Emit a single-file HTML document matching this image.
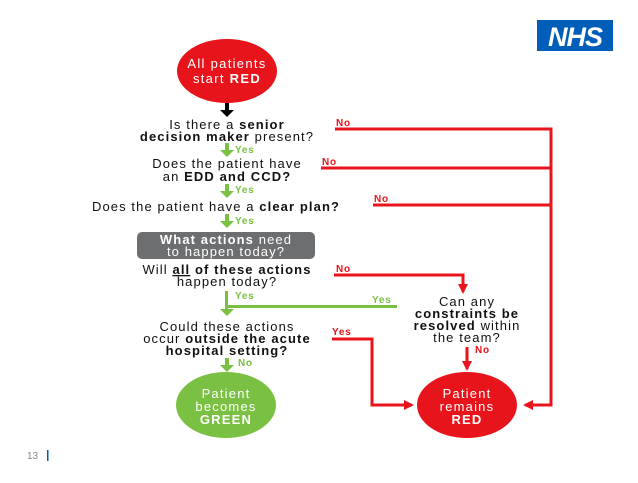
<!DOCTYPE html>
<html><head><meta charset="utf-8"><style>
body{margin:0;width:638px;height:478px;background:#fff;overflow:hidden;font-family:"Liberation Sans",sans-serif}
svg text{font-family:"Liberation Sans",sans-serif}
</style></head><body>
<svg width="638" height="478" xmlns="http://www.w3.org/2000/svg">
<defs>
<marker id="r" markerWidth="10" markerHeight="10" refX="8" refY="5" orient="auto" markerUnits="userSpaceOnUse"><path d="M0,0L10,5L0,10z" fill="#e8141b"/></marker>
</defs>
<!-- NHS -->
<rect x="537" y="20" width="76" height="31" fill="#005eb8"/>
<text x="575" y="46" text-anchor="middle" font-size="27" font-weight="bold" font-style="italic" fill="#fff" letter-spacing="-1">NHS</text>
<!-- top circle -->
<ellipse cx="227" cy="71" rx="50" ry="32" fill="#e8141b"/>
<text x="227" y="68" text-anchor="middle" font-size="13" letter-spacing="1.3" fill="#fff">All patients</text>
<text x="227" y="83" text-anchor="middle" font-size="13" letter-spacing="1.3" fill="#fff">start <tspan font-weight="bold">RED</tspan></text>
<!-- black arrow -->
<rect x="225" y="103" width="4" height="8" fill="#000"/>
<path d="M220,110L234,110L227,117z" fill="#000"/>
<g font-size="13" letter-spacing="1.1" fill="#111" text-anchor="middle">
<text x="227" y="129">Is there a <tspan font-weight="bold">senior</tspan></text>
<text x="227" y="141"><tspan font-weight="bold">decision maker</tspan> present?</text>
<text x="227" y="168">Does the patient have</text>
<text x="227" y="181">an <tspan font-weight="bold">EDD and CCD?</tspan></text>
<text x="216" y="211">Does the patient have a <tspan font-weight="bold">clear plan?</tspan></text>
<text x="227" y="274">Will <tspan font-weight="bold" text-decoration="underline">all</tspan> <tspan font-weight="bold">of these actions</tspan></text>
<text x="227" y="286">happen today?</text>
<text x="467" y="306">Can any</text>
<text x="467" y="318" font-weight="bold">constraints be</text>
<text x="467" y="330"><tspan font-weight="bold">resolved</tspan> within</text>
<text x="467" y="342">the team?</text>
<text x="227" y="331">Could these actions</text>
<text x="227" y="343">occur <tspan font-weight="bold">outside the acute</tspan></text>
<text x="227" y="355" font-weight="bold">hospital setting?</text>
</g>
<!-- green arrows -->
<g fill="#7ac143">
<rect x="225" y="143" width="4" height="8"/><path d="M220,150L234,150L227,157z"/>
<rect x="225" y="184" width="4" height="8"/><path d="M220,191L234,191L227,198z"/>
<rect x="225" y="214" width="4" height="8"/><path d="M220,221L234,221L227,228z"/>
<rect x="225" y="291" width="3" height="19"/><path d="M220,309L234,309L227,316z"/>
<rect x="225" y="358" width="4" height="8"/><path d="M220,365L234,365L227,372z"/>
<rect x="227" y="305" width="170" height="3"/>
</g>
<g font-size="10" font-weight="bold" letter-spacing="0.8" fill="#7ac143">
<text x="235" y="153">Yes</text><text x="235" y="193">Yes</text><text x="235" y="224">Yes</text>
<text x="235" y="299">Yes</text><text x="372" y="303">Yes</text><text x="238" y="366">No</text>
</g>
<!-- gray box -->
<rect x="137" y="232" width="178" height="27" rx="5" fill="#6d6e70"/>
<text x="226" y="244" text-anchor="middle" font-size="13" letter-spacing="1.1" fill="#fff"><tspan font-weight="bold">What actions</tspan> need</text>
<text x="226" y="256" text-anchor="middle" font-size="13" letter-spacing="1.1" fill="#fff">to happen today?</text>
<!-- red lines -->
<g stroke="#e8141b" stroke-width="3" fill="none">
<path d="M335,129H551V405H525" marker-end="url(#r)"/>
<path d="M321,168H551"/>
<path d="M373,205H551"/>
<path d="M334,275H463V292" marker-end="url(#r)"/>
<path d="M467,347V369" marker-end="url(#r)"/>
<path d="M332,339H372V405H412" marker-end="url(#r)"/>
</g>
<g font-size="10" font-weight="bold" letter-spacing="0.8" fill="#e8141b">
<text x="336" y="126">No</text><text x="322" y="165">No</text><text x="374" y="202">No</text>
<text x="336" y="272">No</text><text x="332" y="335">Yes</text><text x="475" y="353">No</text>
</g>
<!-- bottom circles -->
<ellipse cx="226" cy="405" rx="50" ry="33" fill="#7ac143"/>
<text x="226" y="398" text-anchor="middle" font-size="13" letter-spacing="1.2" fill="#fff">Patient</text>
<text x="226" y="411" text-anchor="middle" font-size="13" letter-spacing="1.2" fill="#fff">becomes</text>
<text x="226" y="424" text-anchor="middle" font-size="13" letter-spacing="1.2" font-weight="bold" fill="#fff">GREEN</text>
<ellipse cx="467" cy="405" rx="50" ry="33" fill="#e8141b"/>
<text x="467" y="398" text-anchor="middle" font-size="13" letter-spacing="1.2" fill="#fff">Patient</text>
<text x="467" y="411" text-anchor="middle" font-size="13" letter-spacing="1.2" fill="#fff">remains</text>
<text x="467" y="424" text-anchor="middle" font-size="13" letter-spacing="1.2" font-weight="bold" fill="#fff">RED</text>
<text x="27" y="459" font-size="10" fill="#888">13</text>
<rect x="47" y="450" width="1.5" height="11" fill="#005eb8"/>
</svg>
</body></html>
